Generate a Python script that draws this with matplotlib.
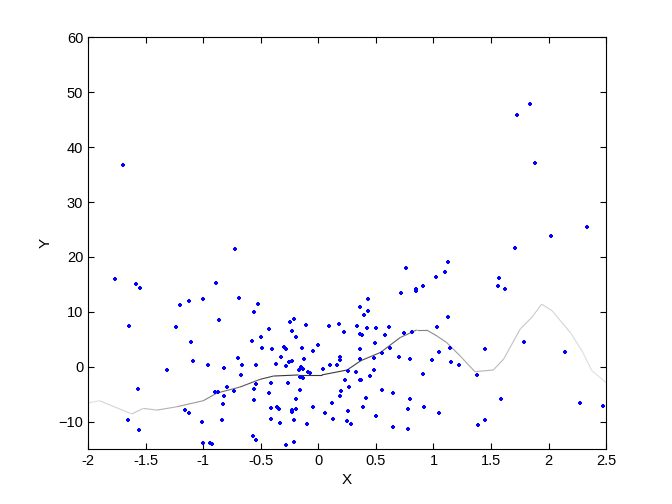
import numpy as np
import matplotlib.pyplot as plt
from matplotlib.collections import LineCollection

# scatter points
x_pts = [-1.70, -1.77, -0.72, -1.58, -1.55, -0.885, -0.685, -1.0, -1.12,
         -1.64, -1.20, -0.52, -0.555, -1.24, -0.86, -1.11, -0.58, -1.09, -0.96,
         -0.82, -0.70, -0.66, -0.54, -1.31, -0.67, -1.57, -0.90, -0.87, -0.79,
         -0.82, -0.73, -0.56, -0.54, -0.83, -1.16, -1.12, -0.56, -1.65, -1.01,
         -0.84, -1.56, -1.0, -0.94, -0.92, -0.57, -0.54,
         -0.495, -0.43, -0.49, -0.40, -0.37, -0.32, -0.30, -0.28, -0.28, -0.255,
         -0.23, -0.25, -0.21, -0.23, -0.19, -0.11, -0.14, -0.05, 0.0, -0.12,
         -0.17, -0.15, -0.13, -0.09, -0.075, -0.16, -0.13, -0.415, -0.26, -0.16,
         -0.43, -0.19, -0.41, -0.355, -0.34, -0.23, -0.195, -0.23, -0.05, -0.41,
         -0.33, -0.21, -0.10, -0.28, -0.21,
         0.045, 0.10, 0.16, 0.19, 0.19, 0.09, 0.18, 0.225, 0.26, 0.23, 0.27,
         0.20, 0.185, 0.115, 0.055, 0.13, 0.26, 0.245, 0.28, 0.33, 0.36, 0.375,
         0.36, 0.36, 0.34, 0.365, 0.38, 0.42, 0.36, 0.40, 0.43, 0.435, 0.41,
         0.385, 0.45, 0.48, 0.48, 0.495, 0.50, 0.61, 0.58, 0.555, 0.62, 0.555,
         0.65, 0.505, 0.65, 0.70, 0.74, 0.81, 0.80, 0.72, 0.85, 0.80, 0.775,
         0.775,
         0.765, 1.71, 1.125, 1.10, 1.025, 0.91, 0.85, 1.57, 1.56, 1.625, 1.13,
         1.035, 1.045, 1.145, 0.99, 1.15, 1.225, 1.45, 1.38, 0.905, 1.79, 2.145,
         0.92, 1.05, 1.59, 1.45, 1.39, 2.27, 2.47,
         1.84, 1.73, 1.885, 2.33, 2.025]
y_pts = [36.7, 16.0, 21.4, 15.1, 14.4, 15.2, 12.5, 12.3, 12.0,
         7.4, 11.2, 11.4, 10.0, 7.2, 8.5, 4.5, 4.7, 1.0, 0.3,
         -0.2, 1.6, 0.3, 0.3, -0.6, -1.5, -4.1, -4.6, -4.6, -3.7,
         -5.3, -4.4, -4.1, -3.2, -6.8, -7.8, -8.4, -6.1, -9.7, -10.1,
         -9.7, -11.5, -13.9, -13.9, -14.1, -12.6, -13.3,
         5.4, 6.9, 3.4, 3.2, 0.5, 1.8, 3.6, 3.2, 0.1, 0.8,
         1.0, 8.1, 8.7, 6.5, 5.4, 7.6, 3.4, 2.9, 4.0, 1.4,
         -0.6, 0.0, -0.4, -1.0, -1.1, -1.9, -2.1, -3.0, -3.0, -4.2,
         -4.8, -5.9, -7.5, -7.3, -7.7, -7.9, -7.7, -8.2, -7.3, -9.5,
         -10.2, -9.7, -10.4, -14.3, -13.7,
         -0.4, 0.3, 0.3, 1.8, 1.2, 7.4, 7.8, 6.3, -0.8, -2.4, -3.7,
         -4.4, -5.3, -6.6, -8.4, -9.5, -8.1, -9.9, -10.4, -1.0, -2.4, -2.4,
         1.4, 3.2, 7.4, 5.9, 5.8, 7.0, 10.9, 9.4, 10.1, 12.3, -5.7,
         -7.3, -1.7, -0.6, 1.6, 4.3, 7.0, 7.2, 5.8, 2.5, 3.4, -4.2,
         -4.8, -9.0, -11.0, 1.8, 6.1, 6.3, 1.4, 13.4, 13.8, -5.9, -7.7,
         -11.3,
         18.0, 21.6, 19.1, 17.2, 16.3, 14.7, 14.1, 16.1, 14.7, 14.1, 9.0,
         7.2, 2.7, 3.4, 1.2, 0.8, 0.3, 3.2, -1.5, -1.3, 4.5, 2.7,
         -7.3, -8.4, -5.9, -9.7, -10.6, -6.6, -7.2,
         47.8, 45.8, 37.1, 25.4, 23.8]

# smoothed fit curve
x_fit = [-2.0, -1.90, -1.62, -1.52, -1.40, -1.23, -1.0, -0.88, -0.68, -0.505,
         -0.39, -0.17, 0.03, 0.25, 0.37, 0.54, 0.71, 0.855, 0.94, 1.03,
         1.115, 1.23, 1.36, 1.52, 1.61, 1.755, 1.855, 1.94, 2.03, 2.19,
         2.29, 2.375, 2.5]
y_fit = [-6.6, -6.2, -8.6, -7.6, -7.9, -7.3, -6.2, -4.8, -3.7, -2.3,
         -1.7, -1.5, -1.5, -0.6, 1.1, 2.6, 5.3, 6.7, 6.7, 5.6,
         4.4, 2.0, -0.9, -0.6, 1.4, 6.9, 9.0, 11.4, 10.2, 6.2,
         2.9, -0.7, -2.9]

x_ticks = [-2, -1.5, -1, -0.5, 0, 0.5, 1, 1.5, 2, 2.5]
x_labels = ['-2', '-1.5', '-1', '-0.5', '0', '0.5', '1', '1.5', '2', '2.5']
y_ticks = [-10, 0, 10, 20, 30, 40, 50, 60]

plt.rcParams['font.family'] = ['Liberation Sans', 'DejaVu Sans']

fig = plt.figure(figsize=(6.72, 5.04), dpi=100)
ax = fig.add_axes([0.131, 0.109, 0.771, 0.817])

# curve shaded by local density of the data (darker where more points)
xf = np.array(x_fit)
yf = np.array(y_fit)
xd = np.array(x_pts)
xm = (xf[:-1] + xf[1:]) / 2
dens = np.exp(-((xm[:, None] - xd[None, :]) / 0.35) ** 2 / 2).sum(axis=1)
dens = dens / dens.max()
gray = 0.94 - 0.74 * dens
segs = np.stack([np.column_stack([xf[:-1], yf[:-1]]),
                 np.column_stack([xf[1:], yf[1:]])], axis=1)
lc = LineCollection(segs, colors=[(g, g, g) for g in gray], linewidths=0.8)
ax.add_collection(lc)

ax.plot(x_pts, y_pts, '+', color='blue', markersize=3.2, markeredgewidth=1.5)

ax.set_xlim(-2, 2.5)
ax.set_ylim(-15, 60)
ax.set_xticks(x_ticks)
ax.set_xticklabels(x_labels)
ax.set_yticks(y_ticks)
ax.tick_params(direction='in', length=4, labelsize=10.5, top=True, right=True,
               labeltop=False, labelright=False)
ax.set_xlabel('X', fontsize=11)
ax.set_ylabel('Y', fontsize=11)

fig.savefig('out.png', dpi=100)
